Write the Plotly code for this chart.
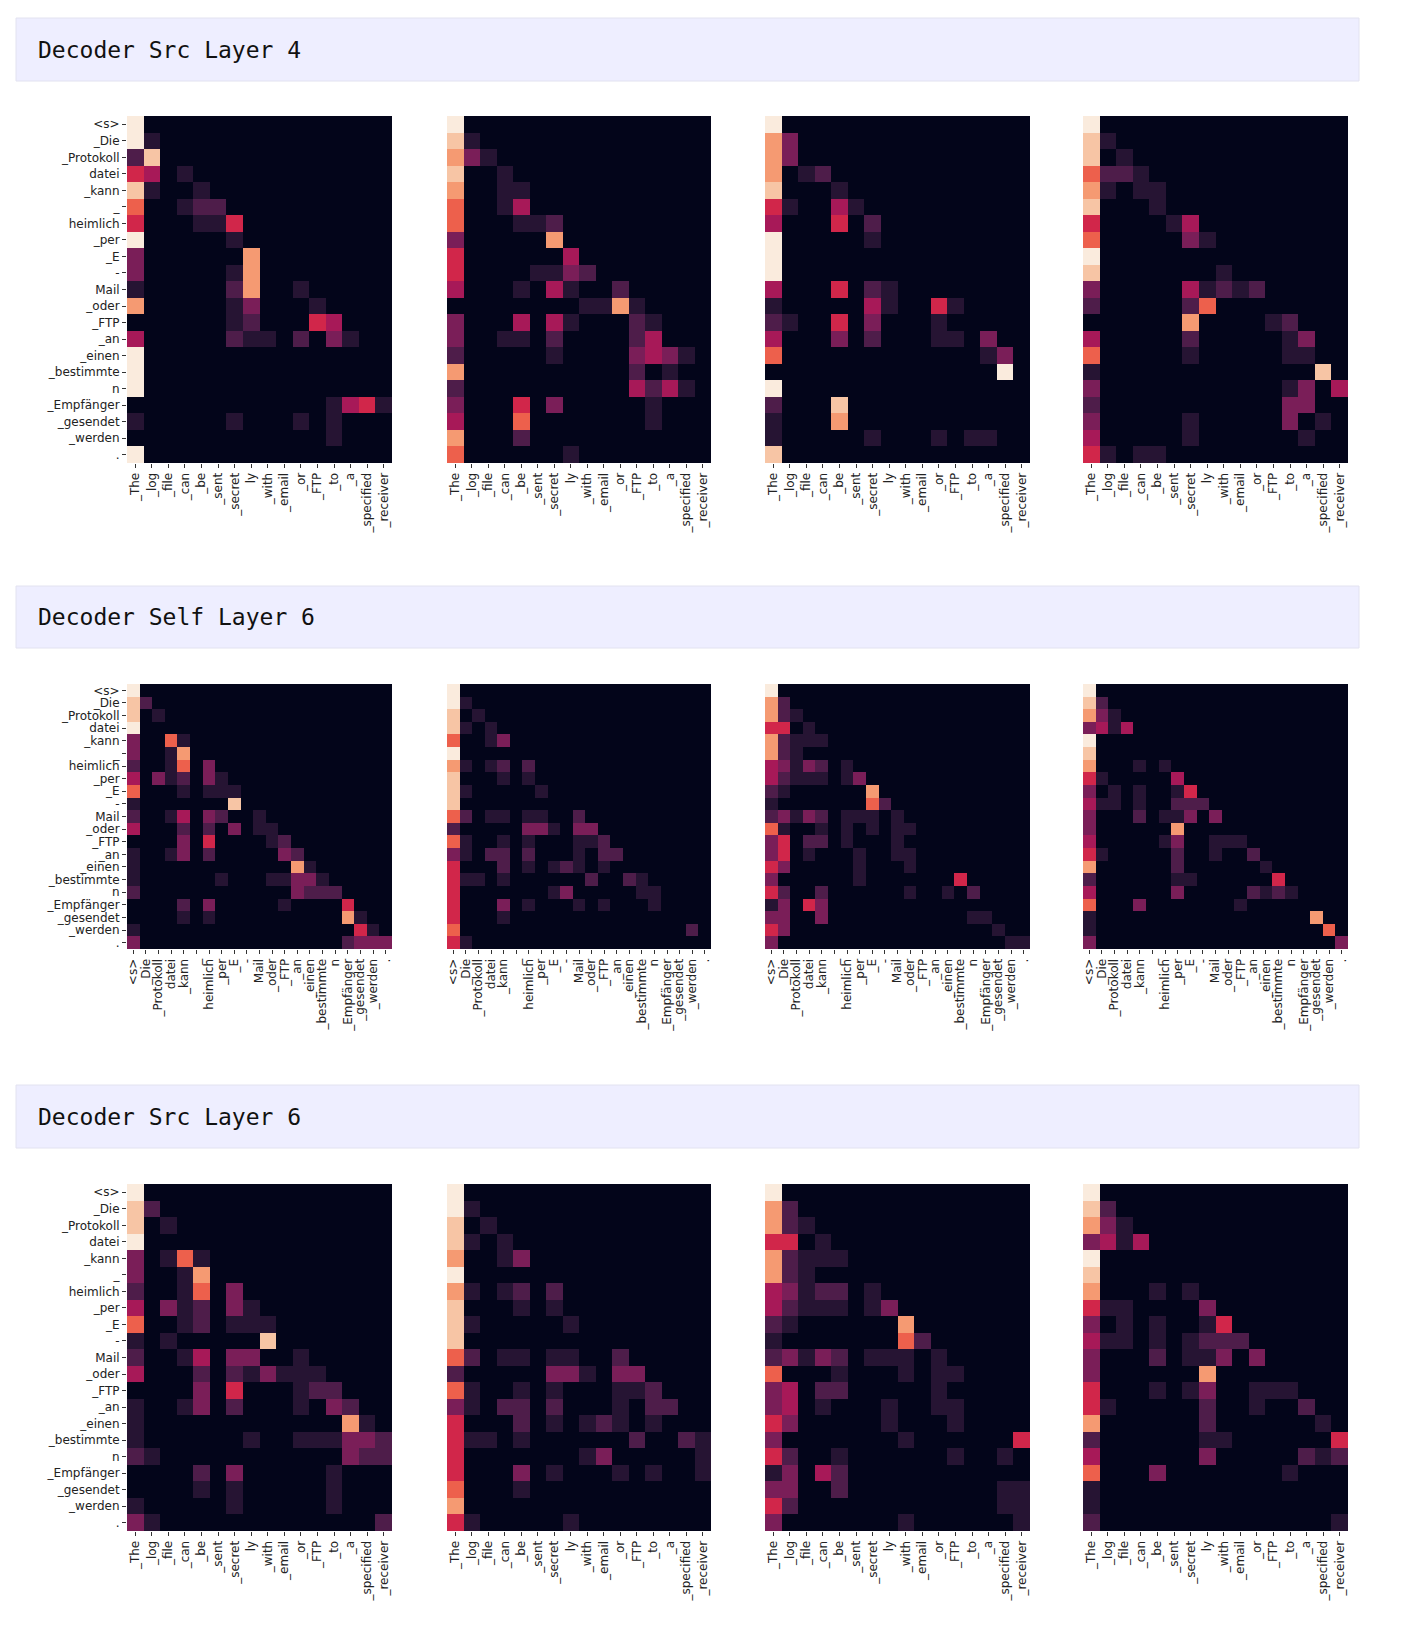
import plotly.graph_objects as go

W, H = 1414, 1628

src_tokens = ["_The", "_log", "_file", "_can", "_be", "_sent", "_secret", "ly", "_with",
              "_email", "_or", "_FTP", "_to", "_a", "_specified", "_receiver"]
tgt_tokens = ["&lt;s&gt;", "_Die", "_Protokoll", "datei", "_kann", "_", "heimlich", "_per", "_E", "-",
              "Mail", "_oder", "_FTP", "_an", "_einen", "_bestimmte", "n", "_Empfänger",
              "_gesendet", "_werden", "."]

section_titles = ["Decoder Src Layer 4", "Decoder Self Layer 6", "Decoder Src Layer 6"]

# attention strength on a 0-9 scale: first column, then (row, col, value) spots
src4_h1_first = [9,9,2,5,8,6,5,9,3,3,1,7,0,4,9,9,9,0,1,0,9]
src4_h1_spots = [(1,1,1),(2,1,8),(3,1,4),(3,3,1),(4,1,1),(4,4,1),(5,3,1),(5,4,2),(5,5,2),
                 (6,4,1),(6,5,1),(6,6,5),(7,6,1),(8,7,7),(9,6,1),(9,7,7),(10,6,2),(10,7,7),
                 (10,10,1),(11,6,1),(11,7,3),(11,11,1),(12,6,1),(12,7,2),(12,11,5),(12,12,4),
                 (13,6,2),(13,7,1),(13,8,1),(13,10,2),(13,12,3),(13,13,1),(17,12,1),(17,13,4),
                 (17,14,5),(17,15,1),(18,6,1),(18,10,1),(18,12,1),(19,12,1)]
src4_h2_first = [9,8,7,8,7,6,6,3,5,5,4,0,3,3,2,7,2,3,4,7,6]
src4_h2_spots = [(1,1,1),(2,1,3),(2,2,1),(3,3,1),(4,3,1),(4,4,1),(5,3,1),(5,4,4),(6,4,1),
                 (6,5,1),(6,6,2),(7,6,7),(8,7,4),(9,5,1),(9,6,1),(9,7,3),(9,8,2),(10,4,1),
                 (10,6,4),(10,7,1),(10,10,2),(11,8,1),(11,9,1),(11,10,7),(11,11,1),(12,4,4),
                 (12,6,4),(12,7,1),(12,11,2),(12,12,1),(13,3,1),(13,4,1),(13,6,2),(13,11,2),
                 (13,12,4),(14,6,1),(14,11,3),(14,12,4),(14,13,3),(14,14,1),(15,11,2),(15,13,1),
                 (16,11,4),(16,12,2),(16,13,4),(16,14,1),(17,4,5),(17,6,3),(17,12,1),(18,4,6),
                 (18,12,1),(19,4,2),(20,7,1)]
src4_h3_first = [9,7,7,7,8,5,4,9,9,9,4,1,2,4,6,0,9,2,1,1,8]
src4_h3_spots = [(1,1,3),(2,1,3),(3,2,1),(3,3,2),(4,4,1),(5,1,1),(5,4,4),(5,5,1),(6,4,5),
                 (6,6,2),(7,6,1),(10,4,5),(10,6,2),(10,7,1),(11,6,4),(11,7,1),(11,10,5),
                 (11,11,1),(12,1,1),(12,4,5),(12,6,3),(12,10,1),(13,4,3),(13,6,2),(13,10,1),
                 (13,11,1),(13,13,3),(14,13,1),(14,14,3),(15,14,9),(17,4,8),(18,4,7),(19,6,1),
                 (19,10,1),(19,12,1),(19,13,1)]
src4_h4_first = [9,8,8,6,7,8,5,6,9,8,3,2,0,4,6,1,3,2,3,4,5]
src4_h4_spots = [(1,1,1),(2,2,1),(3,1,2),(3,2,2),(3,3,1),(4,1,1),(4,3,1),(4,4,1),(5,4,1),
                 (6,5,1),(6,6,4),(7,6,3),(7,7,1),(9,8,1),(10,6,4),(10,7,1),(10,8,2),(10,9,1),
                 (10,10,2),(11,6,2),(11,7,6),(12,6,7),(12,11,1),(12,12,2),(13,6,2),(13,12,1),
                 (13,13,3),(14,6,1),(14,12,1),(14,13,1),(15,14,8),(16,12,1),(16,13,3),
                 (16,15,4),(17,12,3),(17,13,3),(18,6,1),(18,12,3),(18,14,1),(19,6,1),(19,13,1),
                 (20,1,1),(20,3,1),(20,4,1)]

self6_h1_first = [9,8,8,9,3,3,2,4,6,1,2,4,0,1,1,1,2,0,0,1,3]
self6_h1_spots = [(1,1,2),(2,2,1),(4,3,6),(4,4,1),(5,3,1),(5,4,7),(6,3,1),(6,4,6),(6,6,3),
                  (7,2,3),(7,3,1),(7,4,2),(7,6,3),(7,7,1),(8,4,1),(8,6,1),(8,7,1),(8,8,1),
                  (9,8,8),(10,3,1),(10,4,4),(10,6,3),(10,7,2),(10,10,1),(11,4,2),(11,6,2),
                  (11,8,3),(11,10,1),(11,11,1),(12,4,3),(12,6,5),(12,11,1),(12,12,2),(13,3,1),
                  (13,4,3),(13,6,2),(13,12,3),(13,13,2),(14,13,7),(14,14,1),(15,7,1),(15,11,1),
                  (15,12,1),(15,13,3),(15,14,3),(15,15,1),(16,13,3),(16,14,2),(16,15,2),
                  (16,16,2),(17,4,2),(17,6,3),(17,12,1),(17,17,5),(18,4,1),(18,6,1),(18,17,7),
                  (18,18,1),(19,18,5),(19,19,1),(20,17,2),(20,18,3),(20,19,3),(20,20,3)]
self6_h2_first = [9,9,8,8,6,9,7,8,8,8,6,2,6,3,5,5,5,5,5,6,5]
self6_h2_spots = [(1,1,1),(2,2,1),(3,1,1),(3,3,1),(4,3,1),(4,4,3),(6,1,1),(6,3,1),(6,4,2),
                  (6,6,2),(7,4,1),(7,6,1),(8,1,1),(8,7,1),(10,1,2),(10,3,1),(10,4,1),(10,6,1),
                  (10,7,1),(10,10,2),(11,6,3),(11,7,3),(11,8,1),(11,10,3),(11,11,3),(12,1,1),
                  (12,4,1),(12,6,1),(12,10,1),(12,11,1),(12,12,2),(13,1,1),(13,3,2),(13,4,2),
                  (13,6,2),(13,10,1),(13,12,2),(13,13,2),(14,4,2),(14,6,1),(14,8,1),(14,9,2),
                  (14,10,1),(14,12,1),(15,1,1),(15,2,1),(15,4,1),(15,11,2),(15,14,2),(15,15,1),
                  (16,8,1),(16,9,3),(16,15,1),(16,16,1),(17,4,3),(17,6,1),(17,10,1),(17,12,1),
                  (17,16,1),(18,4,1),(19,19,2),(20,1,1)]
self6_h3_first = [9,7,7,5,7,7,4,4,2,1,2,6,3,3,5,3,5,1,3,5,3]
self6_h3_spots = [(1,1,2),(2,1,2),(2,2,1),(3,1,5),(3,3,1),(4,1,2),(4,2,1),(4,3,1),(4,4,1),
                  (5,1,2),(5,2,1),(6,1,3),(6,2,1),(6,3,3),(6,4,2),(6,6,1),(7,1,2),(7,2,1),
                  (7,3,1),(7,4,1),(7,6,1),(7,7,3),(8,1,1),(8,8,7),(9,8,6),(9,9,2),(10,1,3),
                  (10,2,1),(10,3,3),(10,4,2),(10,6,1),(10,7,1),(10,8,1),(10,10,1),(11,1,1),
                  (11,4,1),(11,6,1),(11,8,1),(11,10,1),(11,11,1),(12,1,5),(12,3,2),(12,4,2),
                  (12,6,1),(12,10,1),(13,1,5),(13,3,1),(13,7,1),(13,10,1),(13,11,1),(14,1,3),
                  (14,7,1),(14,11,1),(15,7,1),(15,15,5),(16,1,2),(16,4,2),(16,11,1),(16,14,1),
                  (16,16,2),(17,1,3),(17,3,5),(17,4,3),(18,1,3),(18,4,3),(18,16,1),(18,17,1),
                  (19,1,3),(19,18,1),(20,19,1),(20,20,1)]
self6_h4_first = [9,8,7,3,9,8,7,5,3,4,3,3,4,5,7,2,4,6,1,1,3]
self6_h4_spots = [(1,1,2),(2,1,3),(2,2,1),(3,1,4),(3,2,1),(3,3,4),(6,4,1),(6,6,1),(7,1,1),
                  (7,7,4),(8,2,1),(8,4,1),(8,7,1),(8,8,5),(9,1,1),(9,2,1),(9,4,1),(9,7,2),
                  (9,8,2),(9,9,2),(10,4,2),(10,6,1),(10,7,1),(10,8,3),(10,10,3),(11,7,7),
                  (12,6,1),(12,7,3),(12,10,1),(12,11,1),(12,12,1),(13,1,1),(13,7,2),(13,10,1),
                  (13,13,2),(14,7,2),(14,14,1),(15,7,1),(15,8,1),(15,15,5),(16,7,3),(16,13,2),
                  (16,14,1),(16,15,2),(16,16,1),(17,4,3),(17,12,1),(18,18,7),(19,19,6),(20,20,3)]

src6_h1_first = [9,8,8,9,3,3,2,4,6,1,2,4,0,1,1,1,2,0,0,1,3]
src6_h1_spots = [(1,1,2),(2,2,1),(4,2,1),(4,3,6),(4,4,1),(5,3,1),(5,4,7),(6,3,1),(6,4,6),
                 (6,6,3),(7,2,3),(7,3,1),(7,4,2),(7,6,3),(7,7,1),(8,3,1),(8,4,2),(8,6,1),
                 (8,7,1),(8,8,1),(9,2,1),(9,8,8),(10,3,1),(10,4,4),(10,6,3),(10,7,3),(10,10,1),
                 (11,4,2),(11,6,2),(11,7,1),(11,8,3),(11,9,1),(11,10,1),(11,11,1),(12,4,3),
                 (12,6,5),(12,10,1),(12,11,2),(12,12,2),(13,3,1),(13,4,3),(13,6,2),(13,10,1),
                 (13,12,3),(13,13,2),(14,13,7),(14,14,1),(15,7,1),(15,10,1),(15,11,1),
                 (15,12,1),(15,13,3),(15,14,3),(15,15,2),(16,1,1),(16,13,3),(16,14,2),
                 (16,15,2),(17,4,2),(17,6,3),(17,12,1),(18,4,1),(18,6,1),(18,12,1),(19,6,1),
                 (19,12,1),(20,1,1),(20,15,2)]
src6_h2_first = [9,9,8,8,7,9,7,8,8,8,6,2,6,3,5,5,5,5,6,7,5]
src6_h2_spots = [(1,1,1),(2,2,1),(3,1,1),(3,3,1),(4,3,1),(4,4,3),(6,1,1),(6,3,1),(6,4,2),
                 (6,6,2),(7,4,1),(7,6,1),(8,1,1),(8,7,1),(10,1,2),(10,3,1),(10,4,1),(10,6,1),
                 (10,7,1),(10,10,2),(11,6,3),(11,7,3),(11,8,1),(11,10,3),(11,11,3),(12,1,1),
                 (12,4,1),(12,6,1),(12,10,1),(12,11,1),(12,12,2),(13,1,1),(13,3,2),(13,4,2),
                 (13,6,2),(13,10,1),(13,12,2),(13,13,2),(14,4,2),(14,6,1),(14,8,1),(14,9,2),
                 (14,10,1),(14,12,1),(15,1,1),(15,2,1),(15,4,1),(15,11,2),(15,14,2),(15,15,1),
                 (16,8,1),(16,9,3),(16,15,1),(17,4,3),(17,6,1),(17,10,1),(17,12,1),(17,15,1),
                 (18,4,1),(20,1,1),(20,7,1)]
src6_h3_first = [9,7,7,5,7,7,4,4,2,1,2,6,3,3,5,3,5,1,3,5,3]
src6_h3_spots = [(1,1,2),(2,1,2),(2,2,1),(3,1,5),(3,3,1),(4,1,2),(4,2,1),(4,3,1),(4,4,1),
                 (5,1,2),(5,2,1),(6,1,3),(6,2,1),(6,3,2),(6,4,2),(6,6,1),(7,1,2),(7,2,1),
                 (7,3,1),(7,4,1),(7,6,1),(7,7,3),(8,1,1),(8,8,7),(9,8,6),(9,9,2),(10,1,3),
                 (10,2,1),(10,3,3),(10,4,2),(10,6,1),(10,7,1),(10,8,1),(10,10,1),(11,4,1),
                 (11,8,1),(11,10,1),(11,11,1),(12,1,4),(12,3,2),(12,4,2),(12,10,1),(13,1,4),
                 (13,3,1),(13,7,1),(13,10,1),(13,11,1),(14,1,3),(14,7,1),(14,11,1),(15,8,1),
                 (15,15,5),(16,1,2),(16,4,1),(16,11,1),(16,14,1),(17,1,3),(17,3,4),(17,4,2),
                 (18,1,3),(18,4,2),(18,14,1),(18,15,1),(19,1,2),(19,14,1),(19,15,1),(20,8,1),
                 (20,15,1)]
src6_h4_first = [9,8,7,3,9,8,7,5,3,4,3,3,5,5,7,2,4,6,1,1,2]
src6_h4_spots = [(1,1,2),(2,1,3),(2,2,1),(3,1,4),(3,2,1),(3,3,4),(6,4,1),(6,6,1),(7,1,1),
                 (7,2,1),(7,7,3),(8,2,1),(8,4,1),(8,7,1),(8,8,5),(9,1,1),(9,2,1),(9,4,1),
                 (9,6,1),(9,7,2),(9,8,2),(9,9,2),(10,4,2),(10,6,1),(10,7,1),(10,8,3),(10,10,3),
                 (11,7,7),(12,4,1),(12,6,1),(12,7,3),(12,10,1),(12,11,1),(12,12,1),(13,1,1),
                 (13,7,2),(13,10,1),(13,13,2),(14,7,2),(14,14,1),(15,7,1),(15,8,1),(15,15,5),
                 (16,7,3),(16,13,2),(16,14,1),(16,15,2),(17,4,3),(17,12,1),(20,15,1)]

rocket = [[0.0, "#03051a"], [0.1, "#221331"], [0.2, "#451c47"], [0.3, "#6c1f56"],
          [0.4, "#951c5b"], [0.5, "#bd1655"], [0.6, "#e13342"], [0.7, "#f37651"],
          [0.8, "#f6a47c"], [0.9, "#f7c9aa"], [1.0, "#faebdd"]]


def build(first, spots, ncols):
    z = [[0] * ncols for _ in first]
    for r, v in enumerate(first):
        z[r][0] = v
    for r, c, v in spots:
        z[r][c] = v
    return z


panels = [
    [(src4_h1_first, src4_h1_spots), (src4_h2_first, src4_h2_spots),
     (src4_h3_first, src4_h3_spots), (src4_h4_first, src4_h4_spots)],
    [(self6_h1_first, self6_h1_spots), (self6_h2_first, self6_h2_spots),
     (self6_h3_first, self6_h3_spots), (self6_h4_first, self6_h4_spots)],
    [(src6_h1_first, src6_h1_spots), (src6_h2_first, src6_h2_spots),
     (src6_h3_first, src6_h3_spots), (src6_h4_first, src6_h4_spots)],
]
xcols_px = [(119, 384), (439, 703), (757, 1022), (1075, 1340)]
yrows_px = [(108, 455), (676, 941), (1176, 1523)]
title_px = [(10, 73), (578, 640), (1077, 1140)]

fig = go.Figure()
layout = {}
font = dict(family="DejaVu Sans", size=12, color="#222")
k = 0
for si, row in enumerate(panels):
    xlabels = tgt_tokens if si == 1 else src_tokens
    for hi, (first, spots) in enumerate(row):
        k += 1
        z = build(first, spots, len(xlabels))
        sfx = "" if k == 1 else str(k)
        fig.add_trace(go.Heatmap(z=z, x=list(range(len(xlabels))), y=list(range(len(tgt_tokens))),
                                 colorscale=rocket, zmin=0, zmax=9, showscale=False,
                                 xaxis="x" + sfx, yaxis="y" + sfx, hoverinfo="skip"))
        x0, x1 = xcols_px[hi]
        y0, y1 = yrows_px[si]
        layout["xaxis" + sfx] = dict(domain=[x0 / W, x1 / W], anchor="y" + sfx,
                                     tickmode="array", tickvals=list(range(len(xlabels))),
                                     ticktext=xlabels, tickangle=-90, ticks="outside",
                                     ticklen=4, tickcolor="#333", tickfont=font,
                                     showgrid=False, zeroline=False, showline=False,
                                     automargin=False, fixedrange=True,
                                     range=[-0.5, len(xlabels) - 0.5])
        layout["yaxis" + sfx] = dict(domain=[1 - y1 / H, 1 - y0 / H], anchor="x" + sfx,
                                     tickmode="array", tickvals=list(range(len(tgt_tokens))),
                                     ticktext=tgt_tokens if hi == 0 else [""] * len(tgt_tokens),
                                     ticks="outside" if hi == 0 else "", ticklen=4,
                                     tickcolor="#333", tickfont=font, showgrid=False,
                                     zeroline=False, showline=False, automargin=False,
                                     fixedrange=True,
                                     range=[len(tgt_tokens) - 0.5, -0.5])

shapes, annotations = [], []
for si, (t0, t1) in enumerate(title_px):
    shapes.append(dict(type="rect", xref="paper", yref="paper", x0=8 / W, x1=1351 / W,
                       y0=1 - t1 / H, y1=1 - t0 / H, fillcolor="#eeeeff",
                       line=dict(color="#e2e2f0", width=1), layer="below"))
    annotations.append(dict(xref="paper", yref="paper", x=28 / W, y=1 - (t0 + t1) / 2 / H,
                            xanchor="left", yanchor="middle", showarrow=False,
                            text=section_titles[si],
                            font=dict(family="DejaVu Sans Mono", size=23, color="#111")))

fig.update_layout(width=W, height=H, autosize=False, margin=dict(l=0, r=0, t=0, b=0),
                  paper_bgcolor="white", plot_bgcolor="white", shapes=shapes,
                  annotations=annotations, **layout)
fig.write_html("out.html", config={"displayModeBar": False})
